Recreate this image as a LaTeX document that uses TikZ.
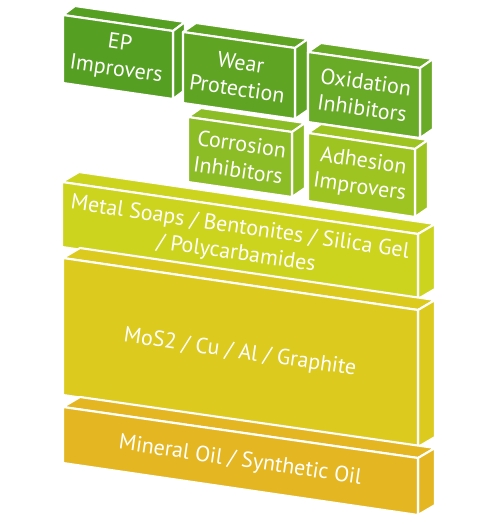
\documentclass[tikz,border=0pt]{standalone}
\usepackage{fontspec}
\setmainfont{PT Sans}
\usepackage{tikz}

\definecolor{epgreen}{RGB}{85,160,35}
\definecolor{weargreen}{RGB}{95,165,35}
\definecolor{oxgreen}{RGB}{105,170,38}
\definecolor{corrgreen}{RGB}{140,188,38}
\definecolor{adhgreen}{RGB}{158,196,34}
\definecolor{soapyellow}{RGB}{204,212,30}
\definecolor{mosyellow}{RGB}{220,202,30}
\definecolor{oilyellow}{RGB}{228,183,34}

\begin{document}
\begin{tikzpicture}[x=0.02cm,y=-0.02cm]
				\tikzstyle{face}=[draw=white,line width=1.2pt,line join=round]
				\tikzstyle{blocktext}=[text=white,align=center,rotate=-8.25,inner sep=0pt,font=\fontsize{12.5}{15}\selectfont]
				\useasboundingbox (0,0) rectangle (480,524);
				% top row
				\filldraw [face,fill=epgreen] (63,15) -- (75,6) -- (185,22) -- (173,31) -- cycle;
				\filldraw [face,fill=epgreen] (173,31) -- (185,22) -- (185,90) -- (173,99) -- cycle;
				\filldraw [face,fill=epgreen] (63,15) -- (173,31) -- (173,99) -- (63,83) -- cycle;
				\node [blocktext] (ep) at (118,57) {EP\\Improvers};
				\filldraw [face,fill=weargreen] (183,32) -- (196,23) -- (308,39) -- (295,48) -- cycle;
				\filldraw [face,fill=weargreen] (295,48) -- (308,39) -- (308,110) -- (295,119) -- cycle;
				\filldraw [face,fill=weargreen] (183,32) -- (295,48) -- (295,119) -- (183,103) -- cycle;
				\node [blocktext] (wear) at (239,75.5) {Wear\\Protection};
				\filldraw [face,fill=oxgreen] (308,52) -- (321,43) -- (433,59) -- (420,68) -- cycle;
				\filldraw [face,fill=oxgreen] (420,68) -- (433,59) -- (433,129) -- (420,138) -- cycle;
				\filldraw [face,fill=oxgreen] (308,52) -- (420,68) -- (420,138) -- (308,122) -- cycle;
				\node [blocktext] (oxid) at (364,95) {Oxidation\\Inhibitors};
				% second row
				\filldraw [face,fill=corrgreen] (188,117) -- (201,108) -- (305,123) -- (292,132) -- cycle;
				\filldraw [face,fill=corrgreen] (292,132) -- (305,123) -- (305,188) -- (292,197) -- cycle;
				\filldraw [face,fill=corrgreen] (188,117) -- (292,132) -- (292,197) -- (188,182) -- cycle;
				\node [blocktext] (corr) at (240,157) {Corrosion\\Inhibitors};
				\filldraw [face,fill=adhgreen] (308,133) -- (321,124) -- (428,140) -- (415,149) -- cycle;
				\filldraw [face,fill=adhgreen] (415,149) -- (428,140) -- (428,208) -- (415,217) -- cycle;
				\filldraw [face,fill=adhgreen] (308,133) -- (415,149) -- (415,217) -- (308,201) -- cycle;
				\node [blocktext] (adh) at (361.5,175) {Adhesion\\Improvers};
				% thickeners
				\filldraw [face,fill=soapyellow] (62,182) -- (79,172) -- (435,224) -- (418,234) -- cycle;
				\filldraw [face,fill=soapyellow] (418,234) -- (435,224) -- (435,289) -- (418,299) -- cycle;
				\filldraw [face,fill=soapyellow] (62,182) -- (418,234) -- (418,299) -- (62,247) -- cycle;
				\node [blocktext] (soaps) at (238,241) {Metal Soaps / Bentonites / Silica Gel\\/ Polycarbamides};
				% solids
				\filldraw [face,fill=mosyellow] (63,258) -- (80,248) -- (435,300) -- (418,310) -- cycle;
				\filldraw [face,fill=mosyellow] (418,310) -- (435,300) -- (435,437) -- (418,447) -- cycle;
				\filldraw [face,fill=mosyellow] (63,258) -- (418,310) -- (418,447) -- (63,395) -- cycle;
				\node [blocktext] (mos) at (240,353) {MoS2 / Cu / Al / Graphite};
				% base oil
				\filldraw [face,fill=oilyellow] (63,407) -- (80,397) -- (435,448) -- (418,458) -- cycle;
				\filldraw [face,fill=oilyellow] (418,458) -- (435,448) -- (435,505) -- (418,515) -- cycle;
				\filldraw [face,fill=oilyellow] (63,407) -- (418,458) -- (418,515) -- (63,463) -- cycle;
				\node [blocktext] (oil) at (240,461) {Mineral Oil / Synthetic Oil};
			\end{tikzpicture}
\end{document}
